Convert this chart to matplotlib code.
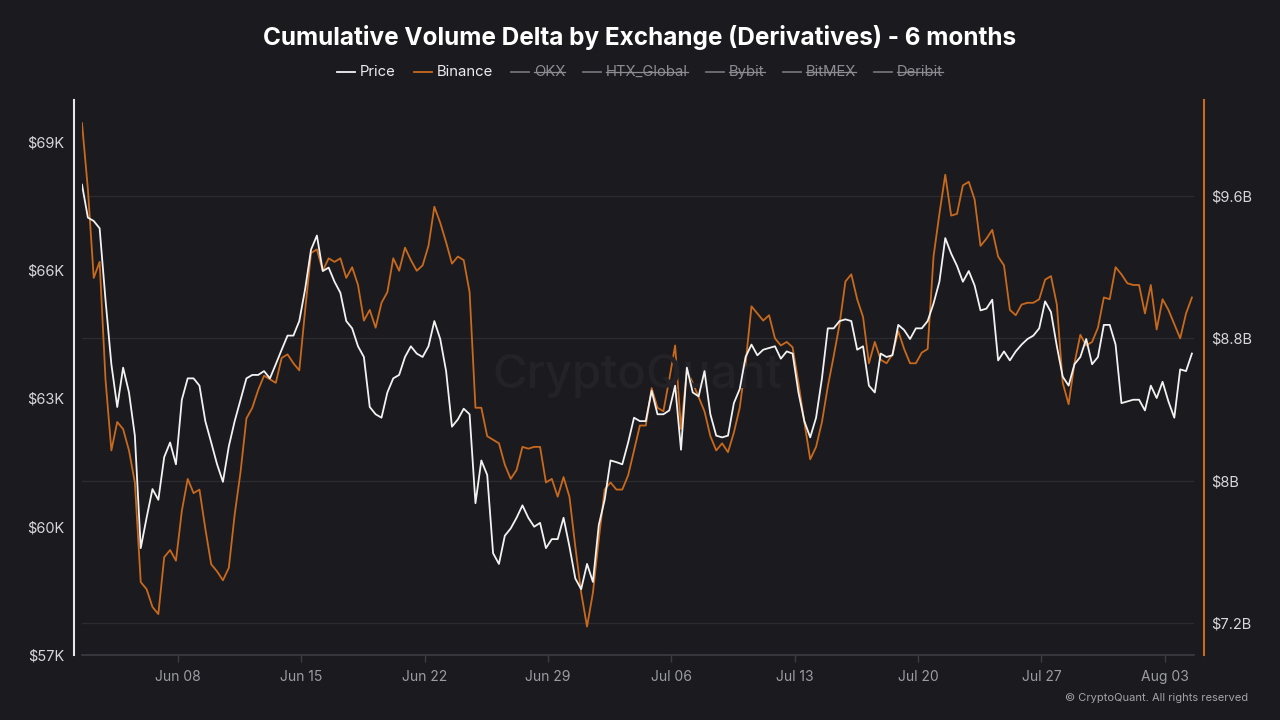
import matplotlib
matplotlib.use('Agg')
import matplotlib.pyplot as plt
import matplotlib.dates as mdates
from matplotlib.lines import Line2D
from matplotlib.ticker import FuncFormatter
import pandas as pd

plt.rcParams['font.family'] = ['Inter', 'DejaVu Sans']
plt.rcParams['text.parse_math'] = False

BG = '#1b1b1f'
ORANGE = '#c8691e'
WHITE = '#f2f2f2'
GREY_TXT = '#9c9ca3'
GRID = '#2b2b30'

# BTC price in $K, sampled every 8 hours from Jun 2 13:00
price_k = [
    68.00, 67.23, 67.15, 66.98, 65.31, 63.80, 62.80, 63.72, 63.14, 62.13,
    59.50, 60.21, 60.88, 60.63, 61.63, 61.97, 61.46, 62.97, 63.47, 63.47,
    63.30, 62.47, 61.97, 61.46, 61.05, 61.88, 62.47, 62.97, 63.47, 63.55,
    63.55, 63.64, 63.47, 63.80, 64.14, 64.47, 64.47, 64.81, 65.56, 66.48,
    66.81, 65.98, 66.06, 65.73, 65.47, 64.81, 64.64, 64.22, 63.97, 62.80,
    62.63, 62.55, 63.14, 63.47, 63.55, 63.97, 64.22, 64.05, 63.97, 64.22,
    64.81, 64.39, 63.64, 62.34, 62.51, 62.76, 62.63, 60.55, 61.55, 61.21,
    59.38, 59.13, 59.79, 59.96, 60.21, 60.50, 60.21, 60.00, 60.09, 59.50,
    59.71, 59.71, 60.21, 59.54, 58.79, 58.54, 59.13, 58.71, 60.04, 60.63,
    61.55, 61.51, 61.46, 61.97, 62.55, 62.47, 62.47, 63.18, 62.63, 62.63,
    62.72, 63.30, 61.80, 63.72, 63.14, 63.05, 63.64, 62.63, 62.13, 62.09,
    62.13, 62.89, 63.22, 63.97, 64.26, 64.01, 64.14, 64.18, 64.22, 63.93,
    64.10, 64.05, 63.14, 62.47, 62.09, 62.55, 63.47, 64.64, 64.64, 64.81,
    64.85, 64.81, 64.14, 64.22, 63.30, 63.14, 64.05, 63.97, 64.01, 64.72,
    64.60, 64.39, 64.64, 64.64, 64.81, 65.22, 65.73, 66.75, 66.39, 66.10,
    65.73, 65.98, 65.64, 65.06, 65.10, 65.31, 63.89, 64.10, 63.89, 64.10,
    64.26, 64.39, 64.47, 64.64, 65.27, 65.02, 64.22, 63.51, 63.30, 63.80,
    63.97, 64.39, 63.80, 63.97, 64.72, 64.72, 64.26, 62.89, 62.93, 62.97,
    62.97, 62.72, 63.30, 63.01, 63.39, 62.93, 62.55, 63.68, 63.64, 64.05,
]

# Binance cumulative volume delta in $B
binance_b = [
    10.01, 9.64, 9.14, 9.23, 8.57, 8.17, 8.33, 8.29, 8.17, 7.99,
    7.43, 7.39, 7.29, 7.25, 7.57, 7.61, 7.55, 7.83, 8.01, 7.93,
    7.95, 7.73, 7.53, 7.49, 7.44, 7.51, 7.81, 8.05, 8.35, 8.41,
    8.51, 8.59, 8.57, 8.55, 8.69, 8.71, 8.66, 8.62, 8.96, 9.28,
    9.30, 9.18, 9.25, 9.23, 9.25, 9.14, 9.20, 9.10, 8.90, 8.96,
    8.86, 9.00, 9.06, 9.25, 9.18, 9.31, 9.24, 9.18, 9.21, 9.32,
    9.54, 9.45, 9.34, 9.22, 9.26, 9.24, 9.06, 8.41, 8.41, 8.25,
    8.23, 8.21, 8.09, 8.01, 8.06, 8.19, 8.18, 8.19, 8.19, 7.99,
    8.01, 7.91, 8.02, 7.91, 7.63, 7.37, 7.18, 7.37, 7.67, 7.95,
    7.99, 7.95, 7.95, 8.03, 8.17, 8.31, 8.31, 8.52, 8.41, 8.39,
    8.57, 8.76, 8.29, 8.62, 8.55, 8.47, 8.39, 8.25, 8.17, 8.21,
    8.16, 8.27, 8.41, 8.66, 8.98, 8.94, 8.90, 8.93, 8.80, 8.76,
    8.78, 8.75, 8.55, 8.33, 8.12, 8.19, 8.33, 8.53, 8.70, 8.88,
    9.12, 9.16, 9.02, 8.92, 8.66, 8.78, 8.68, 8.66, 8.71, 8.84,
    8.74, 8.66, 8.66, 8.72, 8.74, 9.26, 9.50, 9.72, 9.49, 9.50,
    9.66, 9.68, 9.58, 9.32, 9.36, 9.41, 9.26, 9.21, 8.96, 8.93,
    8.99, 9.00, 9.00, 9.02, 9.13, 9.15, 8.99, 8.55, 8.43, 8.66,
    8.82, 8.76, 8.78, 8.86, 9.03, 9.02, 9.20, 9.16, 9.11, 9.10,
    9.10, 8.94, 9.10, 8.85, 9.02, 8.96, 8.88, 8.80, 8.94, 9.03,
]

times = pd.date_range('2024-06-02 13:00', periods=len(price_k), freq='8h')

tick_dates = ['2024-06-08', '2024-06-15', '2024-06-22', '2024-06-29', '2024-07-06',
              '2024-07-13', '2024-07-20', '2024-07-27', '2024-08-03']
price_ticks = [57, 60, 63, 66, 69]
cvd_ticks = [7.2, 8.0, 8.8, 9.6]

legend_names = ['Price', 'Binance', 'OKX', 'HTX_Global', 'Bybit', 'BitMEX', 'Deribit']
legend_colors = [WHITE, ORANGE, '#707076', '#707076', '#707076', '#707076', '#707076']
legend_hidden = [False, False, True, True, True, True, True]

fig = plt.figure(figsize=(12.8, 7.2), dpi=100, facecolor=BG)
W, H = 1280, 720
ax = fig.add_axes([82 / W, 1 - 655 / H, (1194 - 82) / W, (655 - 100) / H])
ax2 = ax.twinx()
ax.set_zorder(ax2.get_zorder() + 1)
ax.patch.set_visible(False)
ax2.set_facecolor(BG)

ax2.plot(times, binance_b, color=ORANGE, lw=1.3)
ax.plot(times, price_k, color=WHITE, lw=1.3)

ax.set_xlim(pd.Timestamp('2024-06-02 13:00'), pd.Timestamp('2024-08-04 15:50'))
ax.set_ylim(57, 69.98)
ax2.set_ylim(7.02, 10.14)

ax.set_yticks(price_ticks)
ax.yaxis.set_major_formatter(FuncFormatter(lambda v, p: '${:g}K'.format(v)))
ax2.set_yticks(cvd_ticks)
ax2.yaxis.set_major_formatter(FuncFormatter(lambda v, p: '${:g}B'.format(v)))
ax2.yaxis.grid(True, color=GRID, lw=0.9)
ax2.set_axisbelow(True)

ax.set_xticks(pd.to_datetime(tick_dates))
ax.xaxis.set_major_formatter(mdates.DateFormatter('%b %d'))

for s in ['top', 'right']:
    ax.spines[s].set_visible(False)
for s in ['top', 'left', 'bottom']:
    ax2.spines[s].set_visible(False)
ax.spines['left'].set_position(('outward', 6))
ax.spines['left'].set_color('#e6e6e6')
ax.spines['left'].set_linewidth(1.5)
ax.spines['bottom'].set_color('#3c3c42')
ax.spines['bottom'].set_linewidth(1.2)
ax2.spines['right'].set_position(('outward', 7))
ax2.spines['right'].set_color(ORANGE)
ax2.spines['right'].set_linewidth(1.5)

ax.tick_params(axis='y', length=0, pad=7, labelsize=10.5, labelcolor='#d8d8dc')
ax2.tick_params(axis='y', length=0, pad=5, labelsize=10.5, labelcolor='#d8d8dc')
ax.tick_params(axis='x', length=5, width=1, color='#3c3c42', pad=6,
               labelsize=10, labelcolor=GREY_TXT)

fig.text(0.5, 1 - 37 / H, 'Cumulative Volume Delta by Exchange (Derivatives) - 6 months',
         ha='center', va='center', fontsize=17.5, fontweight='bold', color='white')

fig.text(637 / W, 1 - 376 / H, 'CryptoQuant', ha='center', va='center',
         fontsize=34, fontweight='medium', color='#232327', zorder=0)

fig.text(1248 / W, 1 - 698 / H, '\u00a9 CryptoQuant. All rights reserved',
         ha='right', va='center', fontsize=8, color='#a2a2a8')

# manual legend, centred over the chart
fig.canvas.draw()
renderer = fig.canvas.get_renderer()
ly = 1 - 72 / H
handle, gap, sep = 18, 5, 18
texts = []
widths = []
for name, c, hid in zip(legend_names, legend_colors, legend_hidden):
    t = fig.text(0, ly, name, ha='left', va='center', fontsize=10.7,
                 color=('#8c8c92' if hid else '#ececf0'))
    widths.append(t.get_window_extent(renderer).width)
    texts.append(t)
total = sum(handle + gap + w for w in widths) + sep * (len(widths) - 1)
x = 640 - total / 2
for t, w, c, hid in zip(texts, widths, legend_colors, legend_hidden):
    fig.add_artist(Line2D([x / W, (x + handle) / W], [ly, ly], color=c, lw=1.3,
                          transform=fig.transFigure))
    tx = x + handle + gap
    t.set_x(tx / W)
    if hid:
        fig.add_artist(Line2D([tx / W, (tx + w) / W], [ly, ly], color='#8c8c92', lw=0.9,
                              transform=fig.transFigure))
    x = tx + w + sep

fig.savefig('out.png', dpi=100, facecolor=BG)
